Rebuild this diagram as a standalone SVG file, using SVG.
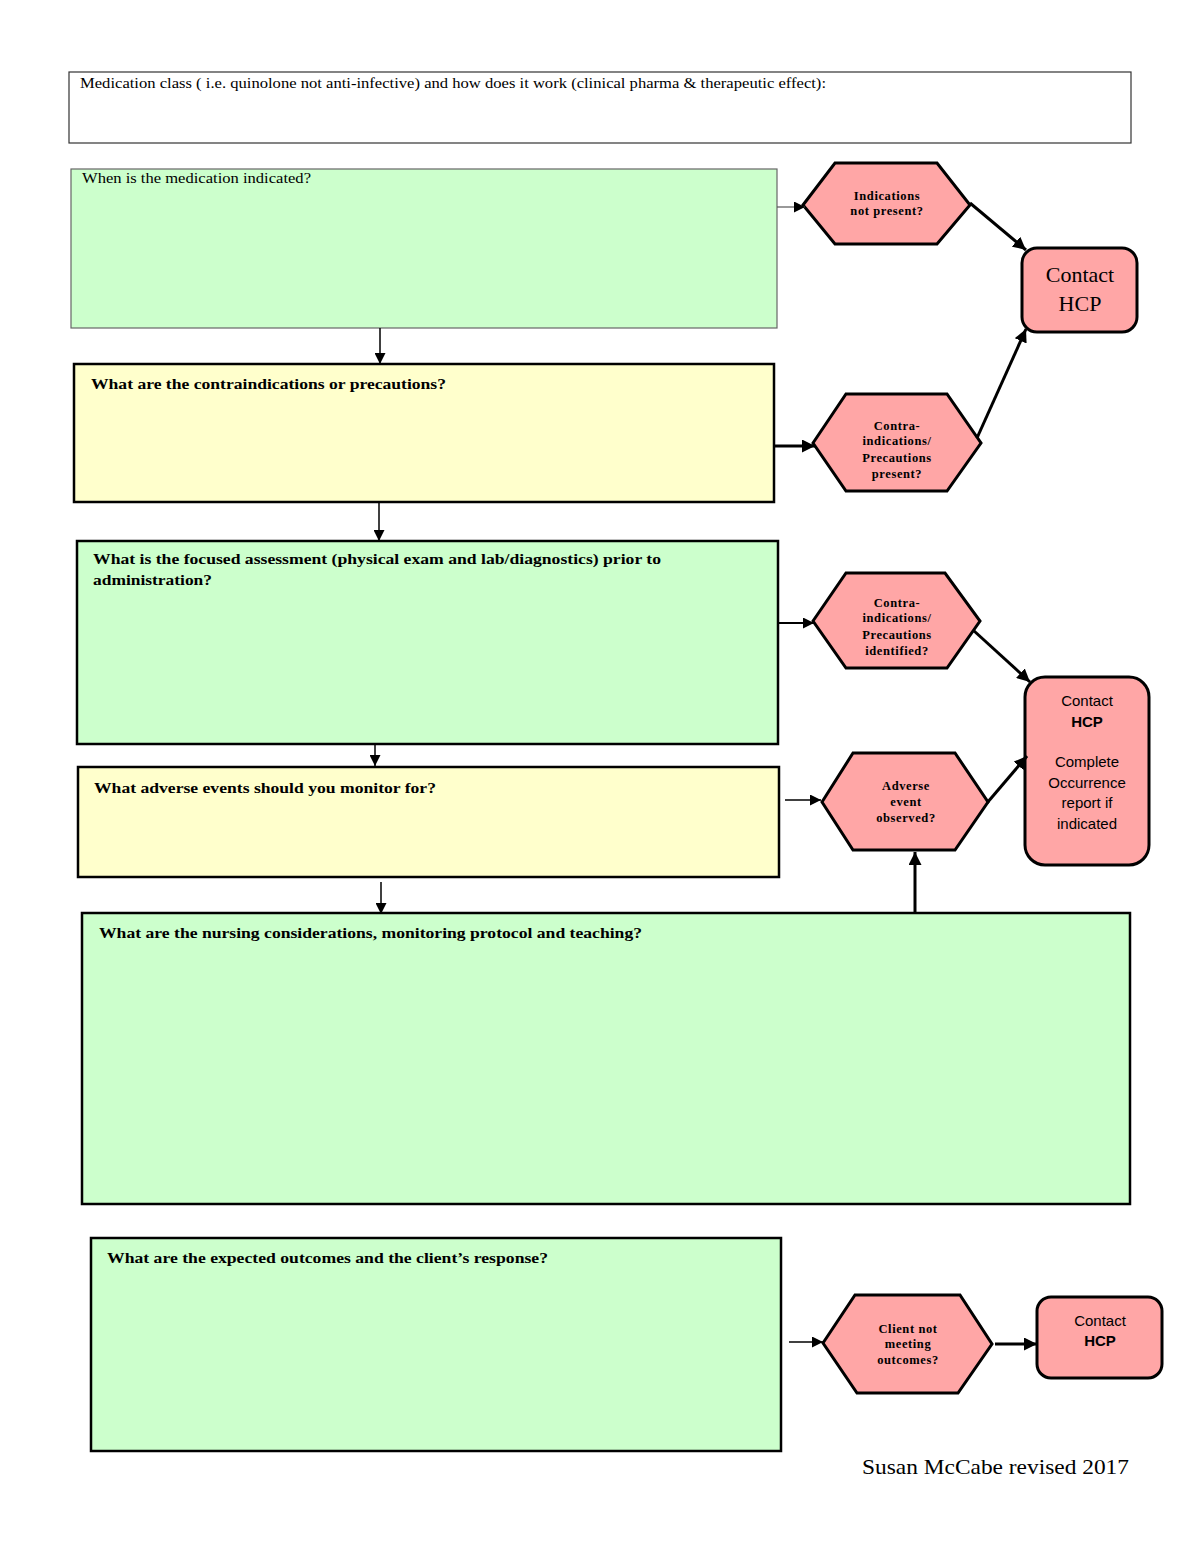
<svg xmlns="http://www.w3.org/2000/svg" width="1200" height="1553" viewBox="0 0 1200 1553">
<style>
.q{font-family:"Liberation Serif","DejaVu Serif",serif;font-size:14px;fill:#000}
.qb{font-family:"Liberation Serif","DejaVu Serif",serif;font-size:15px;font-weight:bold;fill:#000}
.hx{fill:#ffa6a6;stroke:#000;stroke-width:3;stroke-linejoin:miter}
.hl{font-family:"Liberation Serif","DejaVu Serif",serif;font-size:12.5px;font-weight:bold;fill:#000;text-anchor:middle;letter-spacing:0.6px}
.cb{fill:#ffa6a6;stroke:#000;stroke-width:3}
.cs{font-family:"Liberation Sans","DejaVu Sans",sans-serif;font-size:15px;fill:#000;text-anchor:middle}
.green{fill:#ccffcc}
.yellow{fill:#ffffcc}
.bx{stroke:#000;stroke-width:2.5}
.c1{stroke:#000;stroke-width:1.5;fill:none}
.c3{stroke:#000;stroke-width:3;fill:none}
</style>
<defs>
<marker id="ah" viewBox="0 0 10 10" refX="10" refY="5" markerWidth="11" markerHeight="11" markerUnits="userSpaceOnUse" orient="auto">
<path d="M0,0 L10,5 L0,10 z" fill="#000"/>
</marker>
<marker id="ahb" viewBox="0 0 10 10" refX="10" refY="5" markerWidth="13" markerHeight="13" markerUnits="userSpaceOnUse" orient="auto">
<path d="M0,0 L10,5 L0,10 z" fill="#000"/>
</marker>
</defs>
<rect width="1200" height="1553" fill="#fff"/>

<g id="medication-class">
<rect x="69" y="72" width="1062" height="71" fill="#fff" stroke="#333" stroke-width="1.2"/>
<text class="q" x="80" y="88" textLength="746" lengthAdjust="spacingAndGlyphs">Medication class ( i.e. quinolone not anti-infective) and how does it work (clinical pharma &amp; therapeutic effect):</text>
</g>

<g id="indicated">
<rect x="71" y="169" width="706" height="159" class="green" stroke="#666" stroke-width="1.2"/>
<text class="q" x="82" y="183" textLength="229" lengthAdjust="spacingAndGlyphs">When is the medication indicated?</text>
</g>

<g id="contraindications">
<rect x="74" y="364" width="700" height="138" class="yellow bx"/>
<text class="qb" x="91" y="389" textLength="355" lengthAdjust="spacingAndGlyphs">What are the contraindications or precautions?</text>
</g>

<g id="assessment">
<rect x="77" y="541" width="701" height="203" class="green bx"/>
<text class="qb" x="93" y="564" textLength="568" lengthAdjust="spacingAndGlyphs">What is the focused assessment (physical exam and lab/diagnostics) prior to</text>
<text class="qb" x="93" y="585" textLength="119" lengthAdjust="spacingAndGlyphs">administration?</text>
</g>

<g id="adverse-events">
<rect x="78" y="767" width="701" height="110" class="yellow bx"/>
<text class="qb" x="94" y="793" textLength="342" lengthAdjust="spacingAndGlyphs">What adverse events should you monitor for?</text>
</g>

<g id="nursing">
<rect x="82" y="913" width="1048" height="291" class="green bx"/>
<text class="qb" x="99" y="938" textLength="543" lengthAdjust="spacingAndGlyphs">What are the nursing considerations, monitoring protocol and teaching?</text>
</g>

<g id="outcomes">
<rect x="91" y="1238" width="690" height="213" class="green bx"/>
<text class="qb" x="107" y="1263" textLength="441" lengthAdjust="spacingAndGlyphs">What are the expected outcomes and the client’s response?</text>
</g>

<g id="hex-indications">
<polygon class="hx" points="803,205 835,163 937,163 970,205 937,244 835,244"/>
<text class="hl" x="887" y="200">Indications</text>
<text class="hl" x="887" y="215">not present?</text>
</g>

<g id="hex-contra-present">
<polygon class="hx" points="813,443 846,394 947,394 981,443 947,491 846,491"/>
<text class="hl" x="897" y="430">Contra-</text>
<text class="hl" x="897" y="445">indications/</text>
<text class="hl" x="897" y="462">Precautions</text>
<text class="hl" x="897" y="478">present?</text>
</g>

<g id="hex-contra-identified">
<polygon class="hx" points="813,621 846,573 945,573 980,621 947,668 846,668"/>
<text class="hl" x="897" y="607">Contra-</text>
<text class="hl" x="897" y="622">indications/</text>
<text class="hl" x="897" y="639">Precautions</text>
<text class="hl" x="897" y="655">identified?</text>
</g>

<g id="hex-adverse">
<polygon class="hx" points="822,802 853,753 955,753 988,802 955,850 853,850"/>
<text class="hl" x="906" y="790">Adverse</text>
<text class="hl" x="906" y="806">event</text>
<text class="hl" x="906" y="822">observed?</text>
</g>

<g id="hex-outcomes">
<polygon class="hx" points="823,1343 855,1295 960,1295 992,1344 958,1393 857,1393"/>
<text class="hl" x="908" y="1333">Client not</text>
<text class="hl" x="908" y="1348">meeting</text>
<text class="hl" x="908" y="1364">outcomes?</text>
</g>

<g id="contact-hcp-1">
<rect class="cb" x="1022" y="248" width="115" height="84" rx="15"/>
<text x="1080" y="282" font-family="Liberation Serif, serif" font-size="22" text-anchor="middle">Contact</text>
<text x="1080" y="311" font-family="Liberation Serif, serif" font-size="22" text-anchor="middle">HCP</text>
</g>

<g id="contact-hcp-2">
<rect class="cb" x="1025" y="677" width="124" height="188" rx="20"/>
<text class="cs" x="1087" y="706">Contact</text>
<text class="cs" x="1087" y="727" font-weight="bold">HCP</text>
<text class="cs" x="1087" y="767">Complete</text>
<text class="cs" x="1087" y="788">Occurrence</text>
<text class="cs" x="1087" y="808">report if</text>
<text class="cs" x="1087" y="829">indicated</text>
</g>

<g id="contact-hcp-3">
<rect class="cb" x="1037" y="1297" width="125" height="81" rx="14"/>
<text class="cs" x="1100" y="1326">Contact</text>
<text class="cs" x="1100" y="1346" font-weight="bold">HCP</text>
</g>

<g id="connectors">
<line class="c1" x1="380" y1="328" x2="380" y2="364" marker-end="url(#ah)"/>
<line class="c1" x1="379" y1="502" x2="379" y2="541" marker-end="url(#ah)"/>
<line class="c1" x1="375" y1="744" x2="375" y2="766" marker-end="url(#ah)"/>
<line class="c1" x1="381" y1="882" x2="381" y2="914" marker-end="url(#ah)"/>
<line stroke="#555" stroke-width="1.2" x1="777" y1="207" x2="805" y2="207" marker-end="url(#ah)"/>
<line class="c3" x1="774" y1="446" x2="815" y2="446" marker-end="url(#ahb)"/>
<line stroke="#000" stroke-width="2" x1="778" y1="623" x2="814" y2="623" marker-end="url(#ah)"/>
<line class="c1" x1="785" y1="800" x2="821" y2="800" marker-end="url(#ah)"/>
<line class="c1" x1="789" y1="1342" x2="823" y2="1342" marker-end="url(#ah)"/>
<line class="c3" x1="970" y1="203" x2="1026" y2="250" marker-end="url(#ahb)"/>
<line class="c3" x1="977" y1="438" x2="1026" y2="329" marker-end="url(#ahb)"/>
<line class="c3" x1="973" y1="630" x2="1030" y2="682" marker-end="url(#ahb)"/>
<line class="c3" x1="987" y1="803" x2="1027" y2="756" marker-end="url(#ahb)"/>
<line class="c3" x1="915" y1="913" x2="915" y2="852" marker-end="url(#ahb)"/>
<line class="c3" x1="995" y1="1344" x2="1037" y2="1344" marker-end="url(#ahb)"/>
</g>

<g id="footer">
<text x="862" y="1474" font-family="Liberation Serif, serif" font-size="22" textLength="267" lengthAdjust="spacingAndGlyphs">Susan McCabe revised 2017</text>
</g>
</svg>
